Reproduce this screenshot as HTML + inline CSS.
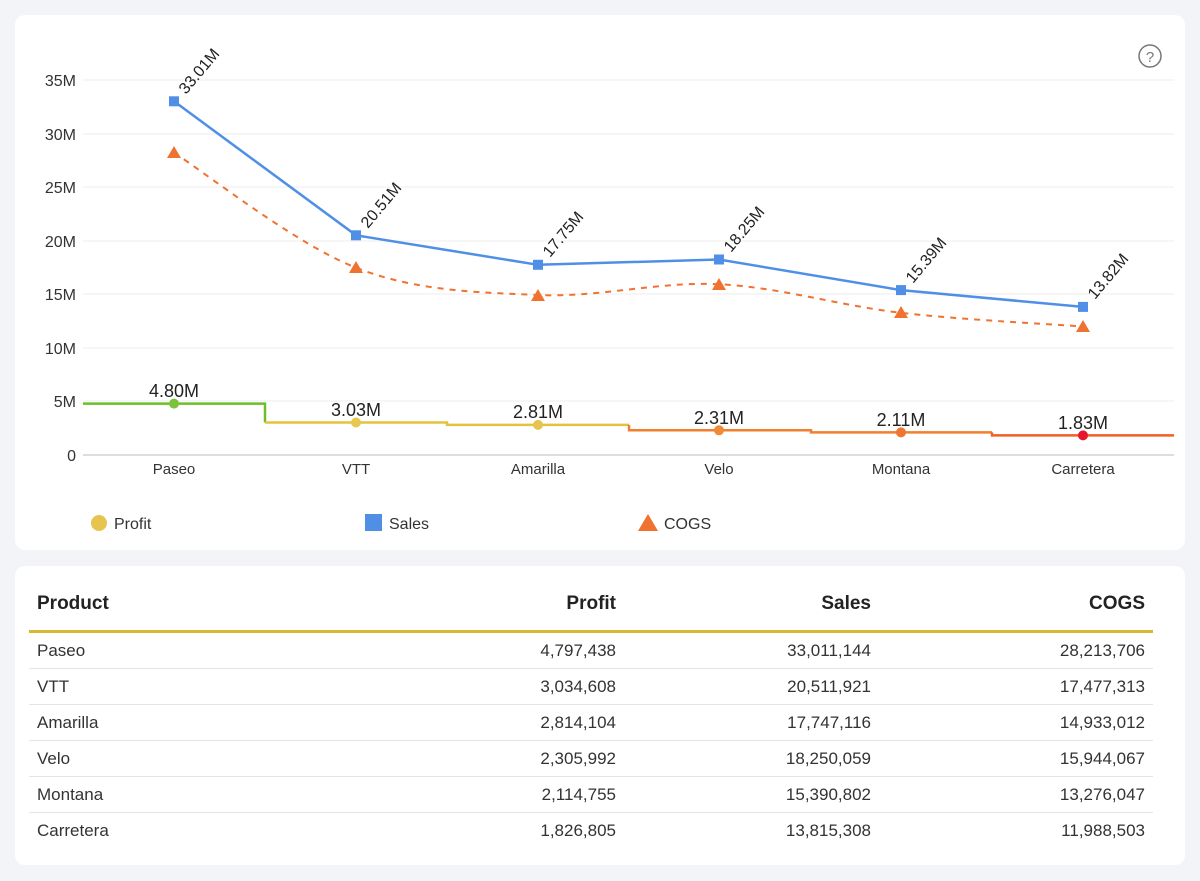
<!DOCTYPE html>
<html><head><meta charset="utf-8"><style>
body{margin:0;width:1200px;height:881px;background:#f3f4f8;font-family:"Liberation Sans",sans-serif;position:relative;overflow:hidden}
.card{position:absolute;background:#fff;border-radius:10px}
table{position:absolute;left:29px;top:578px;width:1124px;border-collapse:collapse;font-size:17px;color:#333;table-layout:fixed}
th{font-weight:bold;font-size:19px;color:#222;height:52px;text-align:right;border-bottom:3px solid #d8b830;padding:0 8px}
td{height:35px;text-align:right;border-bottom:1px solid #e4e4e4;padding:0 8px}
th:first-child,td:first-child{text-align:left}
tr:last-child td{border-bottom:none}
</style></head><body>
<div class="card" style="left:15px;top:15px;width:1170px;height:535px"></div>
<div class="card" style="left:15px;top:566px;width:1170px;height:299px"></div>
<svg width="1200" height="881" style="position:absolute;left:0;top:0" font-family="Liberation Sans, sans-serif">
<g stroke="#eee" stroke-width="1">
<line x1="83" x2="1174" y1="80" y2="80"/><line x1="83" x2="1174" y1="134" y2="134"/><line x1="83" x2="1174" y1="187" y2="187"/><line x1="83" x2="1174" y1="241" y2="241"/><line x1="83" x2="1174" y1="294" y2="294"/><line x1="83" x2="1174" y1="348" y2="348"/><line x1="83" x2="1174" y1="401" y2="401"/>
</g>
<line x1="83" x2="1174" y1="455" y2="455" stroke="#bbb"/>
<g font-size="16" fill="#333" text-anchor="end">
<text x="76" y="86">35M</text><text x="76" y="140">30M</text><text x="76" y="193">25M</text><text x="76" y="247">20M</text><text x="76" y="300">15M</text><text x="76" y="354">10M</text><text x="76" y="407">5M</text><text x="76" y="461">0</text>
</g>
<g font-size="15" fill="#333" text-anchor="middle">
<text x="174" y="474">Paseo</text><text x="356" y="474">VTT</text><text x="538" y="474">Amarilla</text><text x="719" y="474">Velo</text><text x="901" y="474">Montana</text><text x="1083" y="474">Carretera</text>
</g>
<g stroke-width="2.5" fill="none">
<path d="M83 403.6H265V422.5" stroke="#6abf2a"/>
<path d="M265 422.5H447V424.9H629" stroke="#e3c33e"/>
<path d="M629 424.9V430.3H811V432.4H992" stroke="#f07f2e"/>
<path d="M992 432.4V435.4H1174" stroke="#f25e28"/>
</g>
<circle cx="174" cy="403.6" r="5" fill="#7cc23c"/><circle cx="356" cy="422.5" r="5" fill="#e6c94e"/><circle cx="538" cy="424.9" r="5" fill="#e6c44e"/><circle cx="719" cy="430.3" r="5" fill="#ee8a3a"/><circle cx="901" cy="432.4" r="5" fill="#f07532"/><circle cx="1083" cy="435.4" r="5" fill="#e8162c"/>
<g font-size="18" fill="#222" text-anchor="middle">
<text x="174" y="397">4.80M</text><text x="356" y="416">3.03M</text><text x="538" y="418">2.81M</text><text x="719" y="424">2.31M</text><text x="901" y="426">2.11M</text><text x="1083" y="429">1.83M</text>
</g>
<path d="M174 152.7C204.3 171.9 295.3 244 356 267.7C416.7 291.4 477.5 292.3 538 295C598.5 297.8 658.5 281.2 719 284.2C779.5 287.2 840.3 305.8 901 312.8C961.7 319.8 1052.7 324.2 1083 326.5" fill="none" stroke="#f07230" stroke-width="2" stroke-dasharray="6 6"/>
<g fill="#f07230">
<path d="M174 146l7 12h-14z"/><path d="M356 261l7 12h-14z"/><path d="M538 289l7 12h-14z"/><path d="M719 278l7 12h-14z"/><path d="M901 306l7 12h-14z"/><path d="M1083 320l7 12h-14z"/>
</g>
<polyline points="174,101.3 356,235.3 538,264.8 719,259.5 901,290.1 1083,306.9" fill="none" stroke="#4f8fe6" stroke-width="2.5"/>
<g fill="#4f8fe6">
<rect x="169" y="96.3" width="10" height="10"/><rect x="351" y="230.3" width="10" height="10"/><rect x="533" y="259.8" width="10" height="10"/><rect x="714" y="254.5" width="10" height="10"/><rect x="896" y="285.1" width="10" height="10"/><rect x="1078" y="301.9" width="10" height="10"/>
</g>
<g font-size="16" fill="#222">
<text transform="translate(186,95) rotate(-50)">33.01M</text>
<text transform="translate(368,229) rotate(-50)">20.51M</text>
<text transform="translate(550,258) rotate(-50)">17.75M</text>
<text transform="translate(731,253) rotate(-50)">18.25M</text>
<text transform="translate(913,284) rotate(-50)">15.39M</text>
<text transform="translate(1095,300) rotate(-50)">13.82M</text>
</g>
<circle cx="99" cy="523" r="8" fill="#e6c44e"/><text x="114" y="529" font-size="16" fill="#333">Profit</text>
<rect x="365" y="514" width="17" height="17" fill="#4f8fe6"/><text x="389" y="529" font-size="16" fill="#333">Sales</text>
<path d="M648 514l10 17h-20z" fill="#f07230"/><text x="664" y="529" font-size="16" fill="#333">COGS</text>
<circle cx="1150" cy="56" r="11" fill="none" stroke="#777" stroke-width="1.5"/><text x="1150" y="62" font-size="15" fill="#777" text-anchor="middle">?</text>
</svg>
<table>
<colgroup><col style="width:260px"><col style="width:335px"><col style="width:255px"><col style="width:274px"></colgroup>
<tr><th>Product</th><th>Profit</th><th>Sales</th><th>COGS</th></tr>
<tr><td>Paseo</td><td>4,797,438</td><td>33,011,144</td><td>28,213,706</td></tr>
<tr><td>VTT</td><td>3,034,608</td><td>20,511,921</td><td>17,477,313</td></tr>
<tr><td>Amarilla</td><td>2,814,104</td><td>17,747,116</td><td>14,933,012</td></tr>
<tr><td>Velo</td><td>2,305,992</td><td>18,250,059</td><td>15,944,067</td></tr>
<tr><td>Montana</td><td>2,114,755</td><td>15,390,802</td><td>13,276,047</td></tr>
<tr><td>Carretera</td><td>1,826,805</td><td>13,815,308</td><td>11,988,503</td></tr>
</table>
</body></html>
